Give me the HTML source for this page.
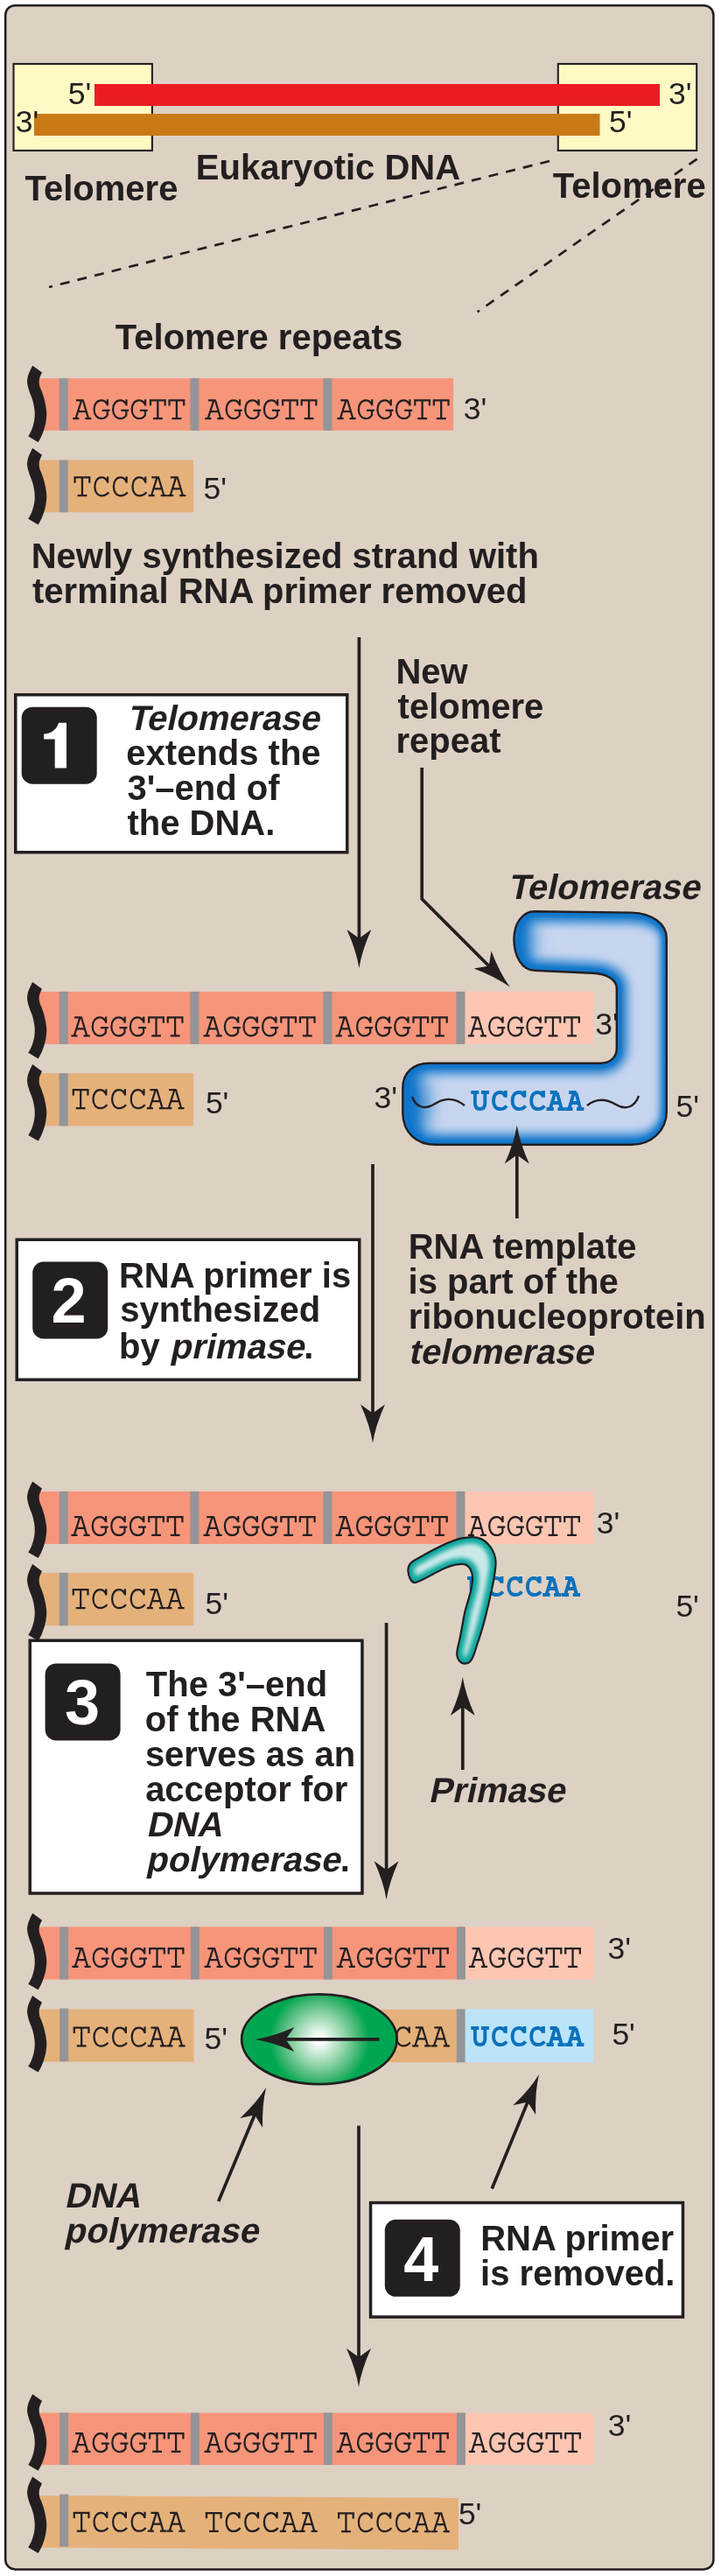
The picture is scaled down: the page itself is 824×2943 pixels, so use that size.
<!DOCTYPE html>
<html><head><meta charset="utf-8"><title>Telomerase</title>
<style>html,body{margin:0;padding:0;background:#fff}svg{display:block;will-change:transform}</style>
</head><body>
<svg width="824" height="2943" viewBox="0 0 824 2943">
<defs>
<style>
text{font-family:"Liberation Sans",sans-serif;fill:#231f20}
.b{font-weight:bold;font-size:40px}
.r{font-weight:normal}
</style>
<radialGradient id="gg" gradientUnits="userSpaceOnUse" cx="365" cy="2330.5" r="57">
<stop offset="0" stop-color="#ffffff"/><stop offset="0.07" stop-color="#ffffff"/>
<stop offset="0.5" stop-color="#93d5ab"/><stop offset="0.8" stop-color="#3fb673"/><stop offset="1" stop-color="#00a651"/>
</radialGradient>
<path id="gA" d="M0.5,-1.05 H7.6 M14.6,-1.05 H21.7 M4.2,-21.85 H12.9 M10.4,-21.6 L3.9,-1.05 M12.2,-21.6 L18.3,-1.05 M6.9,-9 H15.5"/><path id="gT" d="M1.85,-21.85 H20.6 M2.9,-22.9 V-15.6 M19.55,-22.9 V-15.6 M11.25,-21.85 V-1.05 M5.9,-1.05 H16.7"/><path id="gG" d="M18.45,-17 C16.8,-20.2 14.3,-21.85 11.4,-21.85 C6.6,-21.85 3.25,-17.4 3.25,-11.4 C3.25,-5.4 6.6,-0.95 11.4,-0.95 C14.3,-0.95 16.9,-2.2 18.4,-4.6 V-10.3 M18.6,-22.9 V-15.6 M12.4,-10.3 H21.3"/><path id="gC" d="M18.65,-17 C17,-20.2 14.5,-21.85 11.7,-21.85 C7.1,-21.85 4.05,-17.4 4.05,-11.4 C4.05,-5.4 7.1,-0.95 11.9,-0.95 C15.2,-0.95 18,-2.3 19.9,-4.9 M18.8,-22.9 V-15.6"/><path id="bU" d="M0.4,-21.05 H9.4 M12.0,-21.05 H21.0 M5.0,-21 V-8.7 C5.0,-4.2 7.3,-1.95 10.7,-1.95 C14.1,-1.95 16.4,-4.2 16.4,-8.7 V-21"/><path id="bC" d="M18.1,-16.4 C16.7,-19.6 14.4,-21.05 11.7,-21.05 C7.1,-21.05 4.5,-17 4.5,-11.4 C4.5,-5.7 7.3,-1.95 12,-1.95 C15.2,-1.95 17.8,-3.2 19.6,-5.7 M18.3,-22.9 V-15.2"/><path id="bA" d="M0.3,-1.95 H8.6 M13.2,-1.95 H21.5 M4.4,-21.05 H12.8 M10.1,-20.8 L4.5,-1.95 M12.4,-20.8 L17.5,-1.95 M6.6,-9 H15.4"/>
<filter id="blur8" filterUnits="userSpaceOnUse" x="380" y="980" width="440" height="960"><feGaussianBlur stdDeviation="11"/></filter>
<filter id="blur5" filterUnits="userSpaceOnUse" x="380" y="980" width="440" height="960"><feGaussianBlur stdDeviation="6"/></filter>
<filter id="blur3" filterUnits="userSpaceOnUse" x="380" y="980" width="440" height="960"><feGaussianBlur stdDeviation="2.6"/></filter>
</defs>
<rect width="824" height="2943" fill="#fff"/>
<rect x="6.2" y="6.2" width="809.2" height="2929.2" rx="11" fill="#ddd1c4" stroke="#231f20" stroke-width="2.5"/>
<rect x="15.5" y="73" width="158.4" height="99" fill="#fff9c4" stroke="#231f20" stroke-width="2.1"/>
<rect x="637.8" y="73" width="158.4" height="99" fill="#fff9c4" stroke="#231f20" stroke-width="2.1"/>
<rect x="108" y="96" width="646" height="25" fill="#ed1c24"/>
<rect x="39" y="130" width="646.5" height="25" fill="#c97a16"/>
<text x="77.68" y="118.6" class="r" style="font-size:35.5px">5'</text>
<text x="17.85" y="151.3" class="r" style="font-size:35.5px">3'</text>
<text x="763.95" y="118.6" class="r" style="font-size:35.5px">3'</text>
<text x="696.08" y="151.3" class="r" style="font-size:35.5px">5'</text>
<text x="28.55" y="229" class="b">Telomere</text>
<text x="223.82" y="205" class="b">Eukaryotic DNA</text>
<text x="631.75" y="226" class="b">Telomere</text>
<path d="M628,184 L56,328" stroke="#231f20" stroke-width="2.7" stroke-dasharray="11 9.2" fill="none"/>
<path d="M796.6,181.6 L545.6,356.4" stroke="#231f20" stroke-width="2.7" stroke-dasharray="11 9.2" fill="none"/>
<text x="131.85" y="399" class="b">Telomere repeats</text>
<rect x="40" y="432.2" width="478" height="59.6" fill="#f7957a"/>
<rect x="67.7" y="432.2" width="10" height="59.6" fill="#939598"/>
<rect x="217.4" y="432.2" width="10" height="59.6" fill="#939598"/>
<rect x="369.4" y="432.2" width="10" height="59.6" fill="#939598"/>
<g fill="none" stroke="#231f20" stroke-width="2.25"><use href="#gA" x="82.70" y="479.1"/><use href="#gG" x="104.29" y="479.1"/><use href="#gG" x="125.88" y="479.1"/><use href="#gG" x="147.47" y="479.1"/><use href="#gT" x="169.06" y="479.1"/><use href="#gT" x="190.65" y="479.1"/></g>
<g fill="none" stroke="#231f20" stroke-width="2.25"><use href="#gA" x="233.85" y="479.1"/><use href="#gG" x="255.44" y="479.1"/><use href="#gG" x="277.03" y="479.1"/><use href="#gG" x="298.62" y="479.1"/><use href="#gT" x="320.21" y="479.1"/><use href="#gT" x="341.80" y="479.1"/></g>
<g fill="none" stroke="#231f20" stroke-width="2.25"><use href="#gA" x="385.00" y="479.1"/><use href="#gG" x="406.59" y="479.1"/><use href="#gG" x="428.18" y="479.1"/><use href="#gG" x="449.77" y="479.1"/><use href="#gT" x="471.36" y="479.1"/><use href="#gT" x="492.95" y="479.1"/></g>
<text x="529.65" y="478.8" class="r" style="font-size:35.5px">3'</text>
<rect x="40" y="525.6" width="181" height="59.7" fill="#e5b17a"/>
<rect x="67.7" y="525.6" width="10" height="59.7" fill="#939598"/>
<g fill="none" stroke="#231f20" stroke-width="2.25"><use href="#gT" x="82.70" y="567.3"/><use href="#gC" x="104.29" y="567.3"/><use href="#gC" x="125.88" y="567.3"/><use href="#gC" x="147.47" y="567.3"/><use href="#gA" x="169.06" y="567.3"/><use href="#gA" x="190.65" y="567.3"/></g>
<text x="232.48" y="570.3" class="r" style="font-size:35.5px">5'</text>
<path d="M37.2,417.7 C36.6,418.9 34.6,422.9 33.7,425.1 C32.8,427.4 32.0,429.0 31.6,431.2 C31.2,433.3 30.9,435.4 31.2,438.0 C31.5,440.5 32.3,443.4 33.3,446.5 C34.3,449.7 36.0,453.0 37.1,456.8 C38.2,460.7 39.3,465.7 39.6,469.7 C39.9,473.7 39.7,477.2 39.1,480.8 C38.5,484.4 37.3,488.1 36.2,491.1 C35.1,494.1 32.9,497.4 32.3,498.6 L43.7,505.2 C44.3,504.0 46.2,500.9 47.5,498.0 C48.8,495.1 50.3,491.0 51.2,487.7 C52.1,484.4 52.6,481.2 52.9,478.2 C53.2,475.2 53.5,473.3 53.1,469.7 C52.8,466.1 51.7,460.7 50.8,456.8 C49.9,453.0 48.5,449.4 47.5,446.5 C46.5,443.7 45.4,442.0 45.0,439.7 C44.6,437.4 44.5,435.2 45.0,432.8 C45.5,430.5 47.5,426.8 48.0,425.6Z" fill="#231f20"/>
<path d="M37.2,511.9 C36.6,513.1 34.6,517.1 33.7,519.3 C32.8,521.6 32.0,523.2 31.6,525.4 C31.2,527.5 30.9,529.6 31.2,532.2 C31.5,534.7 32.3,537.6 33.3,540.7 C34.3,543.9 36.0,547.2 37.1,551.0 C38.2,554.9 39.3,559.9 39.6,563.9 C39.9,567.9 39.7,571.4 39.1,575.0 C38.5,578.6 37.3,582.3 36.2,585.3 C35.1,588.3 32.9,591.6 32.3,592.8 L43.7,599.4 C44.3,598.2 46.2,595.1 47.5,592.2 C48.8,589.3 50.3,585.2 51.2,581.9 C52.1,578.6 52.6,575.4 52.9,572.4 C53.2,569.4 53.5,567.5 53.1,563.9 C52.8,560.3 51.7,554.9 50.8,551.0 C49.9,547.2 48.5,543.6 47.5,540.7 C46.5,537.9 45.4,536.2 45.0,533.9 C44.6,531.6 44.5,529.4 45.0,527.0 C45.5,524.7 47.5,521.0 48.0,519.8Z" fill="#231f20"/>
<text x="35.72" y="648.5" class="b">Newly synthesized strand with</text>
<text x="37.01" y="689" class="b">terminal RNA primer removed</text>
<path d="M410.4,728.0 L410.4,1074.0" fill="none" stroke="#231f20" stroke-width="3.7" stroke-linejoin="miter"/>
<path d="M410.4,1106.0 Q407.3,1086.2 396.4,1062.0 L410.4,1072.0 L424.4,1062.0 Q413.5,1086.2 410.4,1106.0Z" fill="#231f20"/>
<rect x="17.75" y="793.75" width="379.0" height="180.0" fill="#fff" stroke="#231f20" stroke-width="3.5"/>
<rect x="24.7" y="807.7" width="86" height="88" rx="12.5" fill="#231f20"/>
<path transform="translate(0.0,0.0)" d="M76,825.8 V877.6 H62.7 V844.6 H50.2 V838.6 C58.2,838.2 64.6,834 67,825.8Z" fill="#fff"/>
<text transform="translate(145.50,833.5) skewX(-12.0)" class="b">Telomerase</text>
<text x="144.34" y="874.0" class="b">extends the</text>
<text x="145.58" y="914.0" class="b">3'–end of</text>
<text x="145.41" y="954.2" class="b">the DNA.</text>
<text x="452.42" y="780.7" class="b">New</text>
<text x="454.61" y="820.7" class="b">telomere</text>
<text x="452.46" y="860.3" class="b">repeat</text>
<path d="M482.2,877.0 L482.2,1027.0 L560.1,1105.0" fill="none" stroke="#231f20" stroke-width="3.7" stroke-linejoin="miter"/>
<path d="M582.7,1127.6 Q566.5,1115.8 541.7,1106.4 L558.7,1103.5 L561.5,1086.6 Q570.9,1111.4 582.7,1127.6Z" fill="#231f20"/>
<text transform="translate(580.20,1026.8) skewX(-12.0)" class="b">Telomerase</text>
<rect x="40" y="1132.9" width="491.29999999999995" height="60" fill="#f7957a"/>
<rect x="531.3" y="1132.9" width="147.0" height="60" fill="#fcc6b3"/>
<rect x="67.7" y="1132.9" width="10" height="60" fill="#939598"/>
<rect x="217.4" y="1132.9" width="10" height="60" fill="#939598"/>
<rect x="369.4" y="1132.9" width="10" height="60" fill="#939598"/>
<rect x="521.4" y="1132.9" width="10" height="60" fill="#939598"/>
<g fill="none" stroke="#231f20" stroke-width="2.25"><use href="#gA" x="80.90" y="1184.3"/><use href="#gG" x="102.49" y="1184.3"/><use href="#gG" x="124.08" y="1184.3"/><use href="#gG" x="145.67" y="1184.3"/><use href="#gT" x="167.26" y="1184.3"/><use href="#gT" x="188.85" y="1184.3"/></g>
<g fill="none" stroke="#231f20" stroke-width="2.25"><use href="#gA" x="232.05" y="1184.3"/><use href="#gG" x="253.64" y="1184.3"/><use href="#gG" x="275.23" y="1184.3"/><use href="#gG" x="296.82" y="1184.3"/><use href="#gT" x="318.41" y="1184.3"/><use href="#gT" x="340.00" y="1184.3"/></g>
<g fill="none" stroke="#231f20" stroke-width="2.25"><use href="#gA" x="383.20" y="1184.3"/><use href="#gG" x="404.79" y="1184.3"/><use href="#gG" x="426.38" y="1184.3"/><use href="#gG" x="447.97" y="1184.3"/><use href="#gT" x="469.56" y="1184.3"/><use href="#gT" x="491.15" y="1184.3"/></g>
<g fill="none" stroke="#231f20" stroke-width="2.25"><use href="#gA" x="534.35" y="1184.3"/><use href="#gG" x="555.94" y="1184.3"/><use href="#gG" x="577.53" y="1184.3"/><use href="#gG" x="599.12" y="1184.3"/><use href="#gT" x="620.71" y="1184.3"/><use href="#gT" x="642.30" y="1184.3"/></g>
<text x="680.35" y="1181.7" class="r" style="font-size:35.5px">3'</text>
<rect x="40" y="1226.1" width="181" height="60.2" fill="#e5b17a"/>
<rect x="67.7" y="1226.1" width="10" height="60.2" fill="#939598"/>
<g fill="none" stroke="#231f20" stroke-width="2.25"><use href="#gT" x="80.90" y="1267.1"/><use href="#gC" x="102.49" y="1267.1"/><use href="#gC" x="124.08" y="1267.1"/><use href="#gC" x="145.67" y="1267.1"/><use href="#gA" x="167.26" y="1267.1"/><use href="#gA" x="188.85" y="1267.1"/></g>
<text x="234.88" y="1271.7" class="r" style="font-size:35.5px">5'</text>
<path d="M37.2,1121.9 C36.6,1123.1 34.6,1127.1 33.7,1129.3 C32.8,1131.6 32.0,1133.2 31.6,1135.4 C31.2,1137.5 30.9,1139.6 31.2,1142.2 C31.5,1144.7 32.3,1147.6 33.3,1150.7 C34.3,1153.9 36.0,1157.2 37.1,1161.0 C38.2,1164.9 39.3,1169.9 39.6,1173.9 C39.9,1177.9 39.7,1181.4 39.1,1185.0 C38.5,1188.6 37.3,1192.3 36.2,1195.3 C35.1,1198.3 32.9,1201.6 32.3,1202.8 L43.7,1209.4 C44.3,1208.2 46.2,1205.1 47.5,1202.2 C48.8,1199.3 50.3,1195.2 51.2,1191.9 C52.1,1188.6 52.6,1185.4 52.9,1182.4 C53.2,1179.4 53.5,1177.5 53.1,1173.9 C52.8,1170.3 51.7,1164.9 50.8,1161.0 C49.9,1157.2 48.5,1153.6 47.5,1150.7 C46.5,1147.9 45.4,1146.2 45.0,1143.9 C44.6,1141.6 44.5,1139.4 45.0,1137.0 C45.5,1134.7 47.5,1131.0 48.0,1129.8Z" fill="#231f20"/>
<path d="M37.2,1216.1 C36.6,1217.3 34.6,1221.3 33.7,1223.5 C32.8,1225.8 32.0,1227.4 31.6,1229.6 C31.2,1231.7 30.9,1233.8 31.2,1236.4 C31.5,1238.9 32.3,1241.8 33.3,1244.9 C34.3,1248.1 36.0,1251.4 37.1,1255.2 C38.2,1259.1 39.3,1264.1 39.6,1268.1 C39.9,1272.1 39.7,1275.6 39.1,1279.2 C38.5,1282.8 37.3,1286.5 36.2,1289.5 C35.1,1292.5 32.9,1295.8 32.3,1297.0 L43.7,1303.6 C44.3,1302.4 46.2,1299.3 47.5,1296.4 C48.8,1293.5 50.3,1289.4 51.2,1286.1 C52.1,1282.8 52.6,1279.6 52.9,1276.6 C53.2,1273.6 53.5,1271.7 53.1,1268.1 C52.8,1264.5 51.7,1259.1 50.8,1255.2 C49.9,1251.4 48.5,1247.8 47.5,1244.9 C46.5,1242.1 45.4,1240.4 45.0,1238.1 C44.6,1235.8 44.5,1233.6 45.0,1231.2 C45.5,1228.9 47.5,1225.2 48.0,1224.0Z" fill="#231f20"/>
<clipPath id="telc"><path d="M611,1041.3 L722,1042.6 C745,1043.5 761.8,1055 761.8,1072 V1270 C761.8,1292 744,1307.8 722,1307.8 H498 C476,1307.8 460.3,1294 460.3,1271 V1243 C460.3,1226 472,1214.7 490,1214.7 H686 C697,1214.7 704.8,1208 704.8,1198 V1129 C704.5,1119 694,1112.5 676.8,1111.8 L611,1108.7 C597,1108.7 587.4,1093 587.4,1073 C587.4,1055 597,1041.3 611,1041.3Z"/></clipPath>
<path d="M611,1041.3 L722,1042.6 C745,1043.5 761.8,1055 761.8,1072 V1270 C761.8,1292 744,1307.8 722,1307.8 H498 C476,1307.8 460.3,1294 460.3,1271 V1243 C460.3,1226 472,1214.7 490,1214.7 H686 C697,1214.7 704.8,1208 704.8,1198 V1129 C704.5,1119 694,1112.5 676.8,1111.8 L611,1108.7 C597,1108.7 587.4,1093 587.4,1073 C587.4,1055 597,1041.3 611,1041.3Z" fill="#c8d5ef"/>
<g clip-path="url(#telc)"><ellipse cx="570" cy="1075" rx="38" ry="46" fill="#0f74c9" filter="url(#blur8)"/><ellipse cx="438" cy="1263" rx="50" ry="60" fill="#0f74c9" filter="url(#blur8)"/><path d="M611,1041.3 L722,1042.6 C750,1043.5 767.5,1055 767.5,1074 V1268 C767.5,1292 750,1307.8 722,1307.8 H498 C476,1307.8 460.3,1294 460.3,1271 V1243 C460.3,1226 472,1214.7 490,1214.7 H686 C697,1214.7 704.8,1208 704.8,1198 V1129 C704.5,1119 694,1112.5 676.8,1111.8 L611,1108.7 C597,1108.7 587.4,1093 587.4,1073 C587.4,1055 597,1041.3 611,1041.3Z" fill="none" stroke="#0f74c9" stroke-width="23" filter="url(#blur5)"/><path d="M611,1041.3 L722,1042.6 C745,1043.5 761.8,1055 761.8,1072 V1270 C761.8,1292 744,1307.8 722,1307.8 H498 C476,1307.8 460.3,1294 460.3,1271 V1243 C460.3,1226 472,1214.7 490,1214.7 H686 C697,1214.7 704.8,1208 704.8,1198 V1129 C704.5,1119 694,1112.5 676.8,1111.8 L611,1108.7 C597,1108.7 587.4,1093 587.4,1073 C587.4,1055 597,1041.3 611,1041.3Z" fill="none" stroke="#0f74c9" stroke-width="9" filter="url(#blur3)"/></g>
<path d="M611,1041.3 L722,1042.6 C745,1043.5 761.8,1055 761.8,1072 V1270 C761.8,1292 744,1307.8 722,1307.8 H498 C476,1307.8 460.3,1294 460.3,1271 V1243 C460.3,1226 472,1214.7 490,1214.7 H686 C697,1214.7 704.8,1208 704.8,1198 V1129 C704.5,1119 694,1112.5 676.8,1111.8 L611,1108.7 C597,1108.7 587.4,1093 587.4,1073 C587.4,1055 597,1041.3 611,1041.3Z" fill="none" stroke="#231f20" stroke-width="2.4"/>
<g fill="none" stroke="#0a72bc" stroke-width="3.9"><use href="#bU" x="537.90" y="1269"/><use href="#bC" x="559.49" y="1269"/><use href="#bC" x="581.08" y="1269"/><use href="#bC" x="602.67" y="1269"/><use href="#bA" x="624.26" y="1269"/><use href="#bA" x="645.85" y="1269"/></g>
<path d="M471,1253 C476,1266 486,1268 497,1261 S520,1254 531,1263" fill="none" stroke="#231f20" stroke-width="2.3"/>
<path d="M671,1263 C682,1254 694,1256 704,1262 S725,1266 730,1252" fill="none" stroke="#231f20" stroke-width="2.3"/>
<text x="427.45" y="1266" class="r" style="font-size:35.5px">3'</text>
<text x="772.58" y="1275.6" class="r" style="font-size:35.5px">5'</text>
<path d="M590.8,1392.0 L590.8,1317.5" fill="none" stroke="#231f20" stroke-width="3.7" stroke-linejoin="miter"/>
<path d="M590.8,1285.5 Q593.9,1305.3 604.8,1329.5 L590.8,1319.5 L576.8,1329.5 Q587.7,1305.3 590.8,1285.5Z" fill="#231f20"/>
<path d="M426.0,1330.0 L426.0,1616.4" fill="none" stroke="#231f20" stroke-width="3.7" stroke-linejoin="miter"/>
<path d="M426.0,1648.4 Q422.9,1628.6 412.0,1604.4 L426.0,1614.4 L440.0,1604.4 Q429.1,1628.6 426.0,1648.4Z" fill="#231f20"/>
<rect x="19.25" y="1416.25" width="391.5" height="160.0" fill="#fff" stroke="#231f20" stroke-width="3.5"/>
<rect x="37.2" y="1441.5" width="86" height="88" rx="12.5" fill="#231f20"/>
<text x="78.5" y="1511.3" class="b" style="font-size:72px;fill:#fff" text-anchor="middle">2</text>
<text x="135.92" y="1470.5" class="b">RNA primer is</text>
<text x="137.19" y="1510.3" class="b">synthesized</text>
<text x="135.96" y="1551.8" class="b">by</text>
<text transform="translate(193.76,1551.8) skewX(-12.0)" class="b">primase</text>
<text x="347.18" y="1551.8" class="b">.</text>
<text x="466.72" y="1437.6" class="b">RNA template</text>
<text x="466.61" y="1477.6" class="b">is part of the</text>
<text x="466.76" y="1517.6" class="b">ribonucleoprotein</text>
<text transform="translate(466.60,1557.8) skewX(-12.0)" class="b">telomerase</text>
<rect x="40" y="1703.9" width="491.29999999999995" height="60" fill="#f7957a"/>
<rect x="531.3" y="1703.9" width="147.0" height="60" fill="#fcc6b3"/>
<rect x="67.7" y="1703.9" width="10" height="60" fill="#939598"/>
<rect x="217.4" y="1703.9" width="10" height="60" fill="#939598"/>
<rect x="369.4" y="1703.9" width="10" height="60" fill="#939598"/>
<rect x="521.4" y="1703.9" width="10" height="60" fill="#939598"/>
<g fill="none" stroke="#231f20" stroke-width="2.25"><use href="#gA" x="80.90" y="1754.9"/><use href="#gG" x="102.49" y="1754.9"/><use href="#gG" x="124.08" y="1754.9"/><use href="#gG" x="145.67" y="1754.9"/><use href="#gT" x="167.26" y="1754.9"/><use href="#gT" x="188.85" y="1754.9"/></g>
<g fill="none" stroke="#231f20" stroke-width="2.25"><use href="#gA" x="232.05" y="1754.9"/><use href="#gG" x="253.64" y="1754.9"/><use href="#gG" x="275.23" y="1754.9"/><use href="#gG" x="296.82" y="1754.9"/><use href="#gT" x="318.41" y="1754.9"/><use href="#gT" x="340.00" y="1754.9"/></g>
<g fill="none" stroke="#231f20" stroke-width="2.25"><use href="#gA" x="383.20" y="1754.9"/><use href="#gG" x="404.79" y="1754.9"/><use href="#gG" x="426.38" y="1754.9"/><use href="#gG" x="447.97" y="1754.9"/><use href="#gT" x="469.56" y="1754.9"/><use href="#gT" x="491.15" y="1754.9"/></g>
<g fill="none" stroke="#231f20" stroke-width="2.25"><use href="#gA" x="534.35" y="1754.9"/><use href="#gG" x="555.94" y="1754.9"/><use href="#gG" x="577.53" y="1754.9"/><use href="#gG" x="599.12" y="1754.9"/><use href="#gT" x="620.71" y="1754.9"/><use href="#gT" x="642.30" y="1754.9"/></g>
<text x="681.85" y="1752.3" class="r" style="font-size:35.5px">3'</text>
<rect x="40" y="1796.9" width="181.3" height="60.3" fill="#e5b17a"/>
<rect x="67.7" y="1796.9" width="10" height="60.3" fill="#939598"/>
<g fill="none" stroke="#231f20" stroke-width="2.25"><use href="#gT" x="80.90" y="1838.1"/><use href="#gC" x="102.49" y="1838.1"/><use href="#gC" x="124.08" y="1838.1"/><use href="#gC" x="145.67" y="1838.1"/><use href="#gA" x="167.26" y="1838.1"/><use href="#gA" x="188.85" y="1838.1"/></g>
<text x="234.58" y="1843.5" class="r" style="font-size:35.5px">5'</text>
<text x="772.38" y="1847.3" class="r" style="font-size:35.5px">5'</text>
<path d="M37.2,1692.5 C36.6,1693.7 34.6,1697.7 33.7,1699.9 C32.8,1702.2 32.0,1703.8 31.6,1706.0 C31.2,1708.1 30.9,1710.2 31.2,1712.8 C31.5,1715.3 32.3,1718.2 33.3,1721.3 C34.3,1724.5 36.0,1727.8 37.1,1731.6 C38.2,1735.5 39.3,1740.5 39.6,1744.5 C39.9,1748.5 39.7,1752.0 39.1,1755.6 C38.5,1759.2 37.3,1762.9 36.2,1765.9 C35.1,1768.9 32.9,1772.2 32.3,1773.4 L43.7,1780.0 C44.3,1778.8 46.2,1775.7 47.5,1772.8 C48.8,1769.9 50.3,1765.8 51.2,1762.5 C52.1,1759.2 52.6,1756.0 52.9,1753.0 C53.2,1750.0 53.5,1748.1 53.1,1744.5 C52.8,1740.9 51.7,1735.5 50.8,1731.6 C49.9,1727.8 48.5,1724.2 47.5,1721.3 C46.5,1718.5 45.4,1716.8 45.0,1714.5 C44.6,1712.2 44.5,1710.0 45.0,1707.6 C45.5,1705.3 47.5,1701.6 48.0,1700.4Z" fill="#231f20"/>
<path d="M37.2,1787.1 C36.6,1788.3 34.6,1792.3 33.7,1794.5 C32.8,1796.8 32.0,1798.4 31.6,1800.6 C31.2,1802.7 30.9,1804.8 31.2,1807.4 C31.5,1809.9 32.3,1812.8 33.3,1815.9 C34.3,1819.1 36.0,1822.4 37.1,1826.2 C38.2,1830.1 39.3,1835.1 39.6,1839.1 C39.9,1843.1 39.7,1846.6 39.1,1850.2 C38.5,1853.8 37.3,1857.5 36.2,1860.5 C35.1,1863.5 32.9,1866.8 32.3,1868.0 L43.7,1874.6 C44.3,1873.4 46.2,1870.3 47.5,1867.4 C48.8,1864.5 50.3,1860.4 51.2,1857.1 C52.1,1853.8 52.6,1850.6 52.9,1847.6 C53.2,1844.6 53.5,1842.7 53.1,1839.1 C52.8,1835.5 51.7,1830.1 50.8,1826.2 C49.9,1822.4 48.5,1818.8 47.5,1815.9 C46.5,1813.1 45.4,1811.4 45.0,1809.1 C44.6,1806.8 44.5,1804.6 45.0,1802.2 C45.5,1799.9 47.5,1796.2 48.0,1795.0Z" fill="#231f20"/>
<g fill="none" stroke="#0a72bc" stroke-width="3.9"><use href="#bU" x="533.60" y="1824"/><use href="#bC" x="555.19" y="1824"/><use href="#bC" x="576.78" y="1824"/><use href="#bC" x="598.37" y="1824"/><use href="#bA" x="619.96" y="1824"/><use href="#bA" x="641.55" y="1824"/></g>
<clipPath id="pric"><path d="M466.4,1795 C466,1789 468.5,1785.5 473,1783 C486,1775.5 499,1768 512.4,1762.5 C522,1758.5 531,1756 540,1756.2 C547,1756.4 553,1759 557.5,1763.7 C562,1768.5 565,1774 566,1780 C566.8,1784.5 566.6,1788.5 566.1,1792.4 C565.2,1800 563.8,1807.5 562.3,1814.9 C560,1825.8 557.5,1836.5 554.8,1847.3 C552,1858.3 548.8,1869.2 544.9,1879.8 C543.4,1884.9 542,1890.2 539.5,1895 C537.8,1898.4 535,1900.8 531,1900.6 C526,1900.3 522.3,1895.5 522.2,1890 C522.2,1884.8 523.7,1879.8 524.9,1874.8 C527.3,1864 529,1853.2 531.1,1842.3 C532.5,1836.4 534.4,1830.7 536.1,1824.9 C538,1818.4 539.6,1811.8 540,1805 C540.3,1800.5 539.5,1796 537.4,1792.4 C535.2,1788.8 531.6,1786.8 527.4,1786.9 C522.2,1787 517.2,1788.2 512.4,1789.9 C504.6,1793 497.2,1797.2 489.9,1801.1 C485,1803.6 480.2,1806.4 475,1808 C470,1809 466.8,1801 466.4,1795Z"/></clipPath>
<path d="M466.4,1795 C466,1789 468.5,1785.5 473,1783 C486,1775.5 499,1768 512.4,1762.5 C522,1758.5 531,1756 540,1756.2 C547,1756.4 553,1759 557.5,1763.7 C562,1768.5 565,1774 566,1780 C566.8,1784.5 566.6,1788.5 566.1,1792.4 C565.2,1800 563.8,1807.5 562.3,1814.9 C560,1825.8 557.5,1836.5 554.8,1847.3 C552,1858.3 548.8,1869.2 544.9,1879.8 C543.4,1884.9 542,1890.2 539.5,1895 C537.8,1898.4 535,1900.8 531,1900.6 C526,1900.3 522.3,1895.5 522.2,1890 C522.2,1884.8 523.7,1879.8 524.9,1874.8 C527.3,1864 529,1853.2 531.1,1842.3 C532.5,1836.4 534.4,1830.7 536.1,1824.9 C538,1818.4 539.6,1811.8 540,1805 C540.3,1800.5 539.5,1796 537.4,1792.4 C535.2,1788.8 531.6,1786.8 527.4,1786.9 C522.2,1787 517.2,1788.2 512.4,1789.9 C504.6,1793 497.2,1797.2 489.9,1801.1 C485,1803.6 480.2,1806.4 475,1808 C470,1809 466.8,1801 466.4,1795Z" fill="#c9e9e8"/>
<g clip-path="url(#pric)"><path d="M466.4,1795 C466,1789 468.5,1785.5 473,1783 C486,1775.5 499,1768 512.4,1762.5 C522,1758.5 531,1756 540,1756.2 C547,1756.4 553,1759 557.5,1763.7 C562,1768.5 565,1774 566,1780 C566.8,1784.5 566.6,1788.5 566.1,1792.4 C565.2,1800 563.8,1807.5 562.3,1814.9 C560,1825.8 557.5,1836.5 554.8,1847.3 C552,1858.3 548.8,1869.2 544.9,1879.8 C543.4,1884.9 542,1890.2 539.5,1895 C537.8,1898.4 535,1900.8 531,1900.6 C526,1900.3 522.3,1895.5 522.2,1890 C522.2,1884.8 523.7,1879.8 524.9,1874.8 C527.3,1864 529,1853.2 531.1,1842.3 C532.5,1836.4 534.4,1830.7 536.1,1824.9 C538,1818.4 539.6,1811.8 540,1805 C540.3,1800.5 539.5,1796 537.4,1792.4 C535.2,1788.8 531.6,1786.8 527.4,1786.9 C522.2,1787 517.2,1788.2 512.4,1789.9 C504.6,1793 497.2,1797.2 489.9,1801.1 C485,1803.6 480.2,1806.4 475,1808 C470,1809 466.8,1801 466.4,1795Z" fill="none" stroke="#0aa79e" stroke-width="14" filter="url(#blur3)"/></g>
<path d="M466.4,1795 C466,1789 468.5,1785.5 473,1783 C486,1775.5 499,1768 512.4,1762.5 C522,1758.5 531,1756 540,1756.2 C547,1756.4 553,1759 557.5,1763.7 C562,1768.5 565,1774 566,1780 C566.8,1784.5 566.6,1788.5 566.1,1792.4 C565.2,1800 563.8,1807.5 562.3,1814.9 C560,1825.8 557.5,1836.5 554.8,1847.3 C552,1858.3 548.8,1869.2 544.9,1879.8 C543.4,1884.9 542,1890.2 539.5,1895 C537.8,1898.4 535,1900.8 531,1900.6 C526,1900.3 522.3,1895.5 522.2,1890 C522.2,1884.8 523.7,1879.8 524.9,1874.8 C527.3,1864 529,1853.2 531.1,1842.3 C532.5,1836.4 534.4,1830.7 536.1,1824.9 C538,1818.4 539.6,1811.8 540,1805 C540.3,1800.5 539.5,1796 537.4,1792.4 C535.2,1788.8 531.6,1786.8 527.4,1786.9 C522.2,1787 517.2,1788.2 512.4,1789.9 C504.6,1793 497.2,1797.2 489.9,1801.1 C485,1803.6 480.2,1806.4 475,1808 C470,1809 466.8,1801 466.4,1795Z" fill="none" stroke="#231f20" stroke-width="2.2"/>
<path d="M528.8,2022.0 L528.8,1948.0" fill="none" stroke="#231f20" stroke-width="3.7" stroke-linejoin="miter"/>
<path d="M528.8,1916.0 Q531.9,1935.8 542.8,1960.0 L528.8,1950.0 L514.8,1960.0 Q525.7,1935.8 528.8,1916.0Z" fill="#231f20"/>
<text transform="translate(489.60,2058.8) skewX(-12.0)" class="b">Primase</text>
<path d="M441.6,1854.0 L441.6,2138.3" fill="none" stroke="#231f20" stroke-width="3.7" stroke-linejoin="miter"/>
<path d="M441.6,2170.3 Q438.5,2150.5 427.6,2126.3 L441.6,2136.3 L455.6,2126.3 Q444.7,2150.5 441.6,2170.3Z" fill="#231f20"/>
<rect x="34.25" y="1874.25" width="379.7" height="288.8" fill="#fff" stroke="#231f20" stroke-width="3.5"/>
<rect x="51.6" y="1900.4" width="86" height="88" rx="12.5" fill="#231f20"/>
<text x="93.89999999999999" y="1970.2" class="b" style="font-size:72px;fill:#fff" text-anchor="middle">3</text>
<text x="166.85" y="1937.5" class="b">The 3'–end</text>
<text x="165.74" y="1977.7" class="b">of the RNA</text>
<text x="165.89" y="2017.8" class="b">serves as an</text>
<text x="166.13" y="2058.0" class="b">acceptor for</text>
<text transform="translate(167.10,2098.2) skewX(-12.0)" class="b">DNA</text>
<text transform="translate(166.30,2138.0) skewX(-12.0)" class="b">polymerase</text>
<text x="388.65" y="2138.0" class="b">.</text>
<rect x="40" y="2201.4" width="491.29999999999995" height="60" fill="#f7957a"/>
<rect x="531.3" y="2201.4" width="147.0" height="60" fill="#fcc6b3"/>
<rect x="68.2" y="2201.4" width="10" height="60" fill="#939598"/>
<rect x="217.9" y="2201.4" width="10" height="60" fill="#939598"/>
<rect x="369.9" y="2201.4" width="10" height="60" fill="#939598"/>
<rect x="521.9" y="2201.4" width="10" height="60" fill="#939598"/>
<g fill="none" stroke="#231f20" stroke-width="2.25"><use href="#gA" x="81.90" y="2248"/><use href="#gG" x="103.49" y="2248"/><use href="#gG" x="125.08" y="2248"/><use href="#gG" x="146.67" y="2248"/><use href="#gT" x="168.26" y="2248"/><use href="#gT" x="189.85" y="2248"/></g>
<g fill="none" stroke="#231f20" stroke-width="2.25"><use href="#gA" x="233.05" y="2248"/><use href="#gG" x="254.64" y="2248"/><use href="#gG" x="276.23" y="2248"/><use href="#gG" x="297.82" y="2248"/><use href="#gT" x="319.41" y="2248"/><use href="#gT" x="341.00" y="2248"/></g>
<g fill="none" stroke="#231f20" stroke-width="2.25"><use href="#gA" x="384.20" y="2248"/><use href="#gG" x="405.79" y="2248"/><use href="#gG" x="427.38" y="2248"/><use href="#gG" x="448.97" y="2248"/><use href="#gT" x="470.56" y="2248"/><use href="#gT" x="492.15" y="2248"/></g>
<g fill="none" stroke="#231f20" stroke-width="2.25"><use href="#gA" x="535.35" y="2248"/><use href="#gG" x="556.94" y="2248"/><use href="#gG" x="578.53" y="2248"/><use href="#gG" x="600.12" y="2248"/><use href="#gT" x="621.71" y="2248"/><use href="#gT" x="643.30" y="2248"/></g>
<text x="694.55" y="2237.7" class="r" style="font-size:35.5px">3'</text>
<rect x="40" y="2295.5" width="181.5" height="60" fill="#e5b17a"/>
<rect x="68.2" y="2294.6" width="10" height="60.6" fill="#939598"/>
<g fill="none" stroke="#231f20" stroke-width="2.25"><use href="#gT" x="81.90" y="2338.5"/><use href="#gC" x="103.49" y="2338.5"/><use href="#gC" x="125.08" y="2338.5"/><use href="#gC" x="146.67" y="2338.5"/><use href="#gA" x="168.26" y="2338.5"/><use href="#gA" x="189.85" y="2338.5"/></g>
<text x="233.58" y="2340.8" class="r" style="font-size:35.5px">5'</text>
<rect x="400" y="2295.8" width="131.7" height="60.4" fill="#e5b17a"/>
<rect x="521.8" y="2295.4" width="10" height="60.8" fill="#939598"/>
<g fill="none" stroke="#231f20" stroke-width="2.25"><use href="#gT" x="384.20" y="2338.3"/><use href="#gC" x="405.79" y="2338.3"/><use href="#gC" x="427.38" y="2338.3"/><use href="#gC" x="448.97" y="2338.3"/><use href="#gA" x="470.56" y="2338.3"/><use href="#gA" x="492.15" y="2338.3"/></g>
<rect x="531.7" y="2295.4" width="146.6" height="60.5" fill="#bbe4fa"/>
<g fill="none" stroke="#0a72bc" stroke-width="3.9"><use href="#bU" x="537.90" y="2338.0"/><use href="#bC" x="559.49" y="2338.0"/><use href="#bC" x="581.08" y="2338.0"/><use href="#bC" x="602.67" y="2338.0"/><use href="#bA" x="624.26" y="2338.0"/><use href="#bA" x="645.85" y="2338.0"/></g>
<text x="699.38" y="2336" class="r" style="font-size:35.5px">5'</text>
<path d="M37.2,2185.8 C36.6,2187.0 34.6,2191.0 33.7,2193.2 C32.8,2195.5 32.0,2197.1 31.6,2199.3 C31.2,2201.4 30.9,2203.5 31.2,2206.1 C31.5,2208.6 32.3,2211.5 33.3,2214.6 C34.3,2217.8 36.0,2221.1 37.1,2224.9 C38.2,2228.8 39.3,2233.8 39.6,2237.8 C39.9,2241.8 39.7,2245.3 39.1,2248.9 C38.5,2252.5 37.3,2256.2 36.2,2259.2 C35.1,2262.2 32.9,2265.5 32.3,2266.7 L43.7,2273.3 C44.3,2272.1 46.2,2269.0 47.5,2266.1 C48.8,2263.2 50.3,2259.1 51.2,2255.8 C52.1,2252.5 52.6,2249.3 52.9,2246.3 C53.2,2243.3 53.5,2241.4 53.1,2237.8 C52.8,2234.2 51.7,2228.8 50.8,2224.9 C49.9,2221.1 48.5,2217.5 47.5,2214.6 C46.5,2211.8 45.4,2210.1 45.0,2207.8 C44.6,2205.5 44.5,2203.3 45.0,2200.9 C45.5,2198.6 47.5,2194.9 48.0,2193.7Z" fill="#231f20"/>
<path d="M37.2,2279.9 C36.6,2281.1 34.6,2285.1 33.7,2287.3 C32.8,2289.6 32.0,2291.2 31.6,2293.4 C31.2,2295.5 30.9,2297.6 31.2,2300.2 C31.5,2302.7 32.3,2305.6 33.3,2308.7 C34.3,2311.9 36.0,2315.2 37.1,2319.0 C38.2,2322.9 39.3,2327.9 39.6,2331.9 C39.9,2335.9 39.7,2339.4 39.1,2343.0 C38.5,2346.6 37.3,2350.3 36.2,2353.3 C35.1,2356.3 32.9,2359.6 32.3,2360.8 L43.7,2367.4 C44.3,2366.2 46.2,2363.1 47.5,2360.2 C48.8,2357.3 50.3,2353.2 51.2,2349.9 C52.1,2346.6 52.6,2343.4 52.9,2340.4 C53.2,2337.4 53.5,2335.5 53.1,2331.9 C52.8,2328.3 51.7,2322.9 50.8,2319.0 C49.9,2315.2 48.5,2311.6 47.5,2308.7 C46.5,2305.9 45.4,2304.2 45.0,2301.9 C44.6,2299.6 44.5,2297.4 45.0,2295.0 C45.5,2292.7 47.5,2289.0 48.0,2287.8Z" fill="#231f20"/>
<ellipse cx="364.9" cy="2329.7" rx="88.7" ry="51.4" fill="#00a651"/>
<clipPath id="elc"><ellipse cx="364.9" cy="2329.7" rx="88.7" ry="51.4"/></clipPath>
<circle cx="365" cy="2330.5" r="57" fill="url(#gg)" clip-path="url(#elc)"/>
<ellipse cx="364.9" cy="2329.7" rx="88.7" ry="51.4" fill="none" stroke="#231f20" stroke-width="2.8"/>
<path d="M433.5,2329.9 L324.4,2329.9" fill="none" stroke="#231f20" stroke-width="3.8" stroke-linejoin="miter"/>
<path d="M291.6,2329.9 Q311.8,2326.8 336.4,2315.9 L326.4,2329.9 L336.4,2343.9 Q311.8,2333.0 291.6,2329.9Z" fill="#231f20"/>
<path d="M249.7,2515.0 L291.8,2414.3" fill="none" stroke="#231f20" stroke-width="3.7" stroke-linejoin="miter"/>
<path d="M304.2,2384.8 Q299.4,2404.3 300.1,2430.8 L291.1,2416.2 L274.3,2420.0 Q293.7,2401.9 304.2,2384.8Z" fill="#231f20"/>
<path d="M562.2,2500.5 L603.8,2399.6" fill="none" stroke="#231f20" stroke-width="3.7" stroke-linejoin="miter"/>
<path d="M616.0,2370.0 Q611.3,2389.5 612.2,2416.0 L603.0,2401.4 L586.3,2405.3 Q605.6,2387.1 616.0,2370.0Z" fill="#231f20"/>
<text transform="translate(73.40,2522.4) skewX(-12.0)" class="b">DNA</text>
<text transform="translate(72.80,2561.8) skewX(-12.0)" class="b">polymerase</text>
<path d="M410.0,2428.5 L410.0,2695.0" fill="none" stroke="#231f20" stroke-width="3.7" stroke-linejoin="miter"/>
<path d="M410.0,2727.0 Q406.9,2707.2 396.0,2683.0 L410.0,2693.0 L424.0,2683.0 Q413.1,2707.2 410.0,2727.0Z" fill="#231f20"/>
<rect x="423.55" y="2516.55" width="356.9" height="130.5" fill="#fff" stroke="#231f20" stroke-width="3.5"/>
<rect x="439.8" y="2535.8" width="86" height="88" rx="12.5" fill="#231f20"/>
<text x="481.3" y="2605.6000000000004" class="b" style="font-size:72px;fill:#fff" text-anchor="middle">4</text>
<text x="549.22" y="2570.5" class="b">RNA primer</text>
<text x="549.11" y="2610.5" class="b">is removed.</text>
<rect x="40" y="2756.6" width="491.29999999999995" height="59.5" fill="#f7957a"/>
<rect x="531.3" y="2756.6" width="147.0" height="59.5" fill="#fcc6b3"/>
<rect x="68.2" y="2756.6" width="10" height="59.5" fill="#939598"/>
<rect x="217.9" y="2756.6" width="10" height="59.5" fill="#939598"/>
<rect x="369.9" y="2756.6" width="10" height="59.5" fill="#939598"/>
<rect x="521.9" y="2756.6" width="10" height="59.5" fill="#939598"/>
<g fill="none" stroke="#231f20" stroke-width="2.25"><use href="#gA" x="81.90" y="2802"/><use href="#gG" x="103.49" y="2802"/><use href="#gG" x="125.08" y="2802"/><use href="#gG" x="146.67" y="2802"/><use href="#gT" x="168.26" y="2802"/><use href="#gT" x="189.85" y="2802"/></g>
<g fill="none" stroke="#231f20" stroke-width="2.25"><use href="#gA" x="233.05" y="2802"/><use href="#gG" x="254.64" y="2802"/><use href="#gG" x="276.23" y="2802"/><use href="#gG" x="297.82" y="2802"/><use href="#gT" x="319.41" y="2802"/><use href="#gT" x="341.00" y="2802"/></g>
<g fill="none" stroke="#231f20" stroke-width="2.25"><use href="#gA" x="384.20" y="2802"/><use href="#gG" x="405.79" y="2802"/><use href="#gG" x="427.38" y="2802"/><use href="#gG" x="448.97" y="2802"/><use href="#gT" x="470.56" y="2802"/><use href="#gT" x="492.15" y="2802"/></g>
<g fill="none" stroke="#231f20" stroke-width="2.25"><use href="#gA" x="535.35" y="2802"/><use href="#gG" x="556.94" y="2802"/><use href="#gG" x="578.53" y="2802"/><use href="#gG" x="600.12" y="2802"/><use href="#gT" x="621.71" y="2802"/><use href="#gT" x="643.30" y="2802"/></g>
<text x="694.65" y="2782.6" class="r" style="font-size:35.5px">3'</text>
<path d="M40,2851.1 L524,2853.8 V2913.1 L40,2910.6Z" fill="#e5b17a"/>
<rect x="68.2" y="2849.6" width="10" height="59.7" fill="#939598"/>
<g fill="none" stroke="#231f20" stroke-width="2.25"><use href="#gT" x="81.90" y="2892.7"/><use href="#gC" x="103.49" y="2892.7"/><use href="#gC" x="125.08" y="2892.7"/><use href="#gC" x="146.67" y="2892.7"/><use href="#gA" x="168.26" y="2892.7"/><use href="#gA" x="189.85" y="2892.7"/></g>
<g fill="none" stroke="#231f20" stroke-width="2.25"><use href="#gT" x="233.05" y="2892.9"/><use href="#gC" x="254.64" y="2892.9"/><use href="#gC" x="276.23" y="2892.9"/><use href="#gC" x="297.82" y="2892.9"/><use href="#gA" x="319.41" y="2892.9"/><use href="#gA" x="341.00" y="2892.9"/></g>
<g fill="none" stroke="#231f20" stroke-width="2.25"><use href="#gT" x="384.20" y="2893.1"/><use href="#gC" x="405.79" y="2893.1"/><use href="#gC" x="427.38" y="2893.1"/><use href="#gC" x="448.97" y="2893.1"/><use href="#gA" x="470.56" y="2893.1"/><use href="#gA" x="492.15" y="2893.1"/></g>
<text x="523.88" y="2883.8" class="r" style="font-size:35.5px">5'</text>
<path d="M37.2,2735.2 C36.6,2736.4 34.6,2740.4 33.7,2742.6 C32.8,2744.9 32.0,2746.5 31.6,2748.7 C31.2,2750.8 30.9,2752.9 31.2,2755.5 C31.5,2758.0 32.3,2760.9 33.3,2764.0 C34.3,2767.2 36.0,2770.5 37.1,2774.3 C38.2,2778.2 39.3,2783.2 39.6,2787.2 C39.9,2791.2 39.7,2794.7 39.1,2798.3 C38.5,2801.9 37.3,2805.6 36.2,2808.6 C35.1,2811.6 32.9,2814.9 32.3,2816.1 L43.7,2822.7 C44.3,2821.5 46.2,2818.4 47.5,2815.5 C48.8,2812.6 50.3,2808.5 51.2,2805.2 C52.1,2801.9 52.6,2798.7 52.9,2795.7 C53.2,2792.7 53.5,2790.8 53.1,2787.2 C52.8,2783.6 51.7,2778.2 50.8,2774.3 C49.9,2770.5 48.5,2766.9 47.5,2764.0 C46.5,2761.2 45.4,2759.5 45.0,2757.2 C44.6,2754.9 44.5,2752.7 45.0,2750.3 C45.5,2748.0 47.5,2744.3 48.0,2743.1Z" fill="#231f20"/>
<path d="M37.2,2829.4 C36.6,2830.6 34.6,2834.6 33.7,2836.8 C32.8,2839.1 32.0,2840.7 31.6,2842.9 C31.2,2845.0 30.9,2847.1 31.2,2849.7 C31.5,2852.2 32.3,2855.1 33.3,2858.2 C34.3,2861.4 36.0,2864.7 37.1,2868.5 C38.2,2872.4 39.3,2877.4 39.6,2881.4 C39.9,2885.4 39.7,2888.9 39.1,2892.5 C38.5,2896.1 37.3,2899.8 36.2,2902.8 C35.1,2905.8 32.9,2909.1 32.3,2910.3 L43.7,2916.9 C44.3,2915.7 46.2,2912.6 47.5,2909.7 C48.8,2906.8 50.3,2902.7 51.2,2899.4 C52.1,2896.1 52.6,2892.9 52.9,2889.9 C53.2,2886.9 53.5,2885.0 53.1,2881.4 C52.8,2877.8 51.7,2872.4 50.8,2868.5 C49.9,2864.7 48.5,2861.1 47.5,2858.2 C46.5,2855.4 45.4,2853.7 45.0,2851.4 C44.6,2849.1 44.5,2846.9 45.0,2844.5 C45.5,2842.2 47.5,2838.5 48.0,2837.3Z" fill="#231f20"/>
</svg>
</body></html>
